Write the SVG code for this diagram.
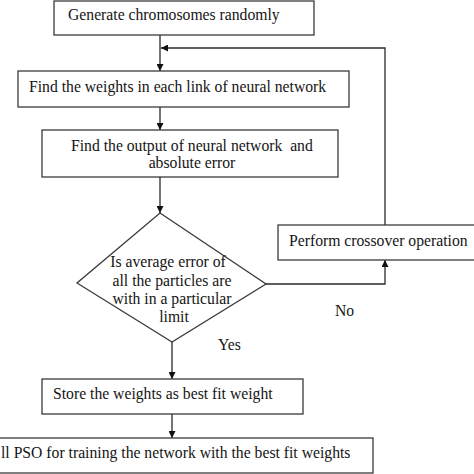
<svg xmlns="http://www.w3.org/2000/svg" width="474" height="474" viewBox="0 0 474 474">
<style>
.box{fill:#fff;stroke:#3a3a3a;stroke-width:1.3}
.ln{fill:none;stroke:#2a2a2a;stroke-width:1.3}
text{font-family:"Liberation Serif","Times New Roman",serif;font-size:15.7px;fill:#151515}
.c{text-anchor:middle}
.pre{white-space:pre}
</style>
<defs>
<marker id="ah" viewBox="0 0 10 10" refX="10" refY="5" markerWidth="7" markerHeight="7" markerUnits="userSpaceOnUse" orient="auto">
<path d="M0,0 L10,5 L0,10 z" fill="#111"/>
</marker>
</defs>
<rect width="474" height="474" fill="#fff"/>
<g id="connectors">
<path class="ln" d="M160,35 V71" marker-end="url(#ah)"/>
<path class="ln" d="M385,225 V48 H161" marker-end="url(#ah)"/>
<path class="ln" d="M160,107 V130" marker-end="url(#ah)"/>
<path class="ln" d="M160,177 V213" marker-end="url(#ah)"/>
<path class="ln" d="M266,284 H385 V260" marker-end="url(#ah)"/>
<path class="ln" d="M172,342 V379" marker-end="url(#ah)"/>
<path class="ln" d="M172,414 V438" marker-end="url(#ah)"/>
</g>
<g id="n1">
<rect class="box" x="54" y="1" width="260" height="34"/>
<text x="68" y="20">Generate chromosomes randomly</text>
</g>
<g id="n2">
<rect class="box" x="18" y="71" width="331" height="36"/>
<text x="29" y="92">Find the weights in each link of neural network</text>
</g>
<g id="n3">
<rect class="box" x="42" y="130" width="296" height="47"/>
<text class="pre" x="71" y="151" xml:space="preserve">Find the output of neural network  and</text>
<text class="c" x="192" y="168">absolute error</text>
</g>
<g id="n4">
<path class="box" d="M160,213 L266,284 L172,342 L77,283 Z"/>
<text class="c" x="168" y="267">Is average error of</text>
<text class="c" x="172" y="286">all the particles are</text>
<text class="c" x="172" y="304">with in a particular</text>
<text class="c" x="174" y="322">limit</text>
</g>
<g id="n5">
<rect class="box" x="278" y="225" width="210" height="35"/>
<text x="289" y="246">Perform crossover operation</text>
</g>
<g id="n6">
<rect class="box" x="42" y="379" width="261" height="35"/>
<text x="53" y="399">Store the weights as best fit weight</text>
</g>
<g id="n7">
<rect class="box" x="-5" y="438" width="378" height="35"/>
<text x="1" y="458">ll PSO for training the network with the best fit weights</text>
</g>
<text x="335" y="316">No</text>
<text x="218" y="350">Yes</text>
</svg>
